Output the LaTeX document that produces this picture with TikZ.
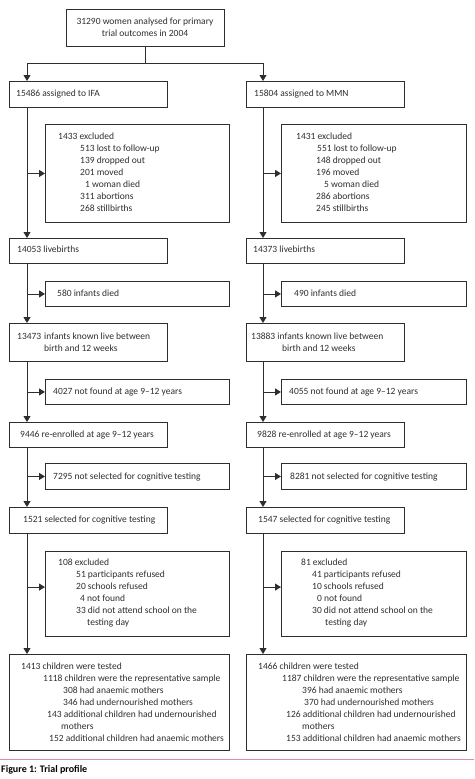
\documentclass[tikz,border=0pt]{standalone}
\usepackage{fontspec}
\setmainfont{Carlito}
\usetikzlibrary{arrows.meta,calc}
\definecolor{ink}{HTML}{2E2E2E}
\definecolor{rule}{HTML}{E08AA4}
\begin{document}
\begin{tikzpicture}[x=1pt,y=-1pt,
  box/.style={draw=ink,line width=0.9pt,anchor=north west,inner sep=0pt,rectangle},
  t/.style={anchor=base west,inner sep=0pt,text=ink,font=\fontsize{9.5}{12}\selectfont},
  tc/.style={anchor=base,inner sep=0pt,text=ink,font=\fontsize{9.5}{12}\selectfont},
  ln/.style={draw=ink,line width=0.9pt},
  arr/.style={ln,-{Triangle[width=7pt,length=6pt]}}]
\useasboundingbox (0,0) rectangle (474,779);
% ---------- boxes ----------
\node[box,minimum width=158pt,minimum height=37pt] (top) at (66,9) {};
\node[box,minimum width=158pt,minimum height=26pt] (ifa) at (9,81) {};
\node[box,minimum width=158pt,minimum height=26pt] (mmn) at (246,81) {};
\node[box,minimum width=184pt,minimum height=98pt] (exL) at (45,124) {};
\node[box,minimum width=185pt,minimum height=98pt] (exR) at (281,124) {};
\node[box,minimum width=158pt,minimum height=25pt] (liveL) at (9,238) {};
\node[box,minimum width=158pt,minimum height=25pt] (liveR) at (246,238) {};
\node[box,minimum width=184pt,minimum height=25pt] (diedL) at (45,281) {};
\node[box,minimum width=185pt,minimum height=25pt] (diedR) at (281,281) {};
\node[box,minimum width=158pt,minimum height=38pt] (knownL) at (9,323) {};
\node[box,minimum width=158pt,minimum height=38pt] (knownR) at (246,323) {};
\node[box,minimum width=184pt,minimum height=25pt] (nfL) at (45,379) {};
\node[box,minimum width=185pt,minimum height=25pt] (nfR) at (281,379) {};
\node[box,minimum width=158pt,minimum height=25pt] (reL) at (9,422) {};
\node[box,minimum width=158pt,minimum height=25pt] (reR) at (246,422) {};
\node[box,minimum width=184pt,minimum height=26pt] (nsL) at (45,463) {};
\node[box,minimum width=185pt,minimum height=26pt] (nsR) at (281,463) {};
\node[box,minimum width=158pt,minimum height=26pt] (selL) at (9,507) {};
\node[box,minimum width=158pt,minimum height=26pt] (selR) at (246,507) {};
\node[box,minimum width=184pt,minimum height=85pt] (ex2L) at (45,551) {};
\node[box,minimum width=185pt,minimum height=85pt] (ex2R) at (281,551) {};
\node[box,minimum width=220pt,minimum height=96pt] (finL) at (9,654) {};
\node[box,minimum width=220pt,minimum height=96pt] (finR) at (246,654) {};
% ---------- texts ----------
\node[tc] (t0a) at (145,24) {31290 women analysed for primary};
\node[tc] (t0b) at (145,36) {trial outcomes in 2004};
\node[t] (t1L) at (16,96) {15486 assigned to IFA};
\node[t] (t1R) at (254,96) {15804 assigned to MMN};
% excluded 1
\node[t] at (58,139) {1433 excluded};
\node[t] at (80,151) {513 lost to follow-up};
\node[t] at (80,163) {139 dropped out};
\node[t] at (80,175) {201 moved};
\node[t] at (85,187) {1 woman died};
\node[t] at (80,199) {311 abortions};
\node[t] at (80,211) {268 stillbirths};
\node[t] at (296,139) {1431 excluded};
\node[t] at (317,151) {551 lost to follow-up};
\node[t] at (316,163) {148 dropped out};
\node[t] at (316,175) {196 moved};
\node[t] at (324,187) {5 woman died};
\node[t] at (316,199) {286 abortions};
\node[t] at (316,211) {245 stillbirths};
% livebirths
\node[t] at (17,252) {14053 livebirths};
\node[t] at (253,252) {14373 livebirths};
\node[t] at (57,296) {580 infants died};
\node[t] at (294,296) {490 infants died};
\node[t] at (17,339) {13473};
\node[t] at (44,339) {infants known live between};
\node[t] at (44,351) {birth and 12 weeks};
\node[t] at (251,339) {13883 infants known live between};
\node[t] at (282,351) {birth and 12 weeks};
\node[t] at (53,394) {4027 not found at age 9--12 years};
\node[t] at (289,394) {4055 not found at age 9--12 years};
\node[t] at (20,437) {9446 re-enrolled at age 9--12 years};
\node[t] at (257,437) {9828 re-enrolled at age 9--12 years};
\node[t] at (53,479) {7295 not selected for cognitive testing};
\node[t] at (290,479) {8281 not selected for cognitive testing};
\node[t] at (23,522) {1521 selected for cognitive testing};
\node[t] at (258,522) {1547 selected for cognitive testing};
% excluded 2
\node[t] at (58,565) {108 excluded};
\node[t] at (76,577) {51 participants refused};
\node[t] at (76,589) {20 schools refused};
\node[t] at (80,601) {4 not found};
\node[t] at (76,613) {33 did not attend school on the};
\node[t] at (87,625) {testing day};
\node[t] at (301,565) {81 excluded};
\node[t] at (312,577) {41 participants refused};
\node[t] at (312,589) {10 schools refused};
\node[t] at (317,601) {0 not found};
\node[t] at (312,613) {30 did not attend school on the};
\node[t] at (325,625) {testing day};
% final
\node[t] at (21,669) {1413 children were tested};
\node[t] at (43,681) {1118 children were the representative sample};
\node[t] at (63,693) {308 had anaemic mothers};
\node[t] at (63,705) {346 had undernourished mothers};
\node[t] at (47,717) {143 additional children had undernourished};
\node[t] at (61,729) {mothers};
\node[t] at (49,741) {152 additional children had anaemic mothers};
\node[t] at (258,669) {1466 children were tested};
\node[t] at (282,681) {1187 children were the representative sample};
\node[t] at (302,693) {396 had anaemic mothers};
\node[t] at (304,705) {370 had undernourished mothers};
\node[t] at (286,717) {126 additional children had undernourished};
\node[t] at (302,729) {mothers};
\node[t] at (286,741) {153 additional children had anaemic mothers};
% caption
\draw[draw=rule,line width=0.7pt] (0,759) -- (474,759);
\node[anchor=base west,inner sep=0pt,text=black,font=\fontsize{10}{12}\bfseries\selectfont] (cap) at (1,772) {Figure 1: Trial profile};
% ---------- connectors ----------
\coordinate (ls) at (27,0);
\coordinate (rs) at (263,0);
\coordinate (split) at ($(top.south)+(0,17)$);
\draw[ln] (top.south) -- (split);
\draw[arr] (split) -| (ls |- ifa.north);
\draw[arr] (split) -| (rs |- mmn.north);
% left spine
\draw[arr] (ls |- ifa.south) -- (ls |- liveL.north);
\draw[arr] (ls |- exL.west) -- (exL.west);
\draw[arr] (ls |- liveL.south) -- (ls |- knownL.north);
\draw[arr] (ls |- diedL.west) -- (diedL.west);
\draw[arr] (ls |- knownL.south) -- (ls |- reL.north);
\draw[arr] (ls |- nfL.west) -- (nfL.west);
\draw[arr] (ls |- reL.south) -- (ls |- selL.north);
\draw[arr] (ls |- nsL.west) -- (nsL.west);
\draw[arr] (ls |- selL.south) -- (ls |- finL.north);
\coordinate (e2l) at ($(ex2L.north west)!0.42!(ex2L.south west)$);
\draw[arr] (ls |- e2l) -- (e2l);
% right spine
\draw[arr] (rs |- mmn.south) -- (rs |- liveR.north);
\draw[arr] (rs |- exR.west) -- (exR.west);
\draw[arr] (rs |- liveR.south) -- (rs |- knownR.north);
\draw[arr] (rs |- diedR.west) -- (diedR.west);
\draw[arr] (rs |- knownR.south) -- (rs |- reR.north);
\draw[arr] (rs |- nfR.west) -- (nfR.west);
\draw[arr] (rs |- reR.south) -- (rs |- selR.north);
\draw[arr] (rs |- nsR.west) -- (nsR.west);
\draw[arr] (rs |- selR.south) -- (rs |- finR.north);
\coordinate (e2r) at ($(ex2R.north west)!0.42!(ex2R.south west)$);
\draw[arr] (rs |- e2r) -- (e2r);
\end{tikzpicture}
\end{document}
